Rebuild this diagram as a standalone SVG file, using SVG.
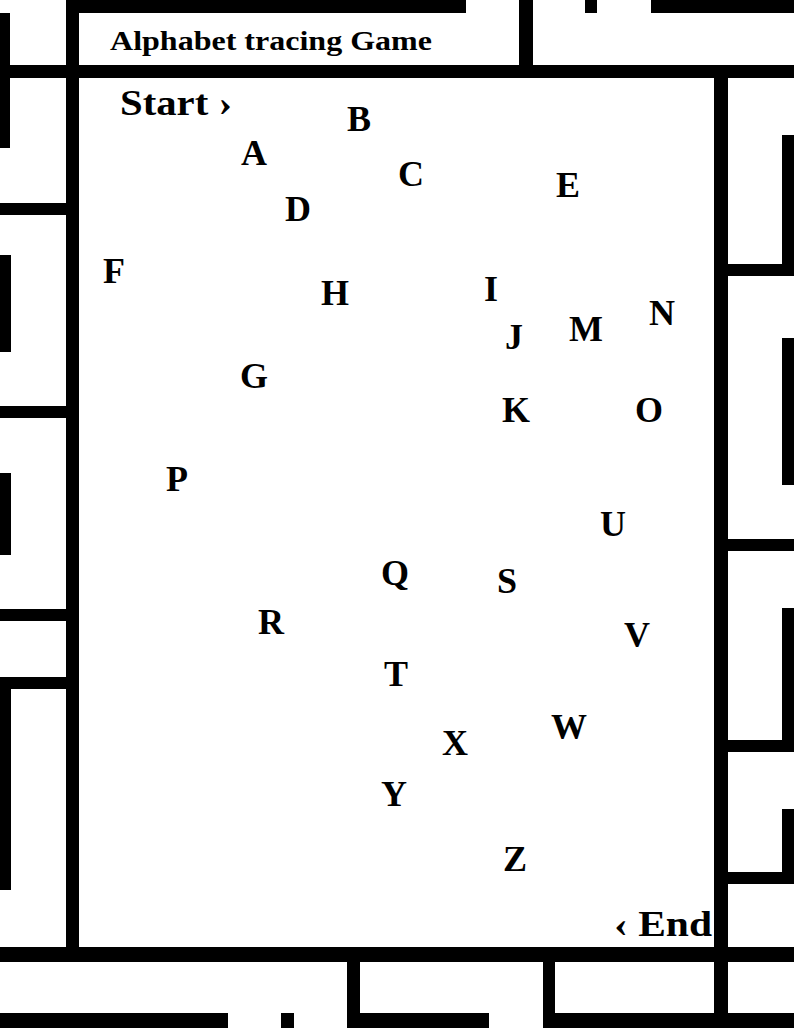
<svg xmlns="http://www.w3.org/2000/svg" width="794" height="1028" viewBox="0 0 794 1028">
<style>
.w{fill:#000}
text{font-family:"Liberation Serif","DejaVu Serif",serif;font-weight:bold;fill:#000}
.l{font-size:36px;text-anchor:middle}
</style>
<rect width="794" height="1028" fill="#fff"/>
<g id="walls" class="w">
<rect x="66" y="0" width="400" height="13"/>
<rect x="519" y="0" width="14" height="70"/>
<rect x="585" y="0" width="12" height="13"/>
<rect x="651" y="0" width="143" height="13"/>
<rect x="0" y="13" width="10" height="135"/>
<rect x="0" y="65" width="794" height="13"/>
<rect x="66" y="0" width="13" height="960"/>
<rect x="714" y="65" width="14" height="963"/>
<rect x="0" y="203" width="70" height="12"/>
<rect x="0" y="255" width="11" height="97"/>
<rect x="0" y="406" width="70" height="12"/>
<rect x="0" y="473" width="11" height="82"/>
<rect x="0" y="609" width="70" height="12"/>
<rect x="0" y="677" width="70" height="12"/>
<rect x="0" y="677" width="11" height="213"/>
<rect x="782" y="135" width="12" height="141"/>
<rect x="720" y="264" width="74" height="12"/>
<rect x="782" y="338" width="12" height="147"/>
<rect x="720" y="539" width="74" height="12"/>
<rect x="782" y="608" width="12" height="144"/>
<rect x="720" y="740" width="74" height="12"/>
<rect x="782" y="809" width="12" height="75"/>
<rect x="720" y="872" width="74" height="12"/>
<rect x="0" y="947" width="794" height="15"/>
<rect x="347" y="955" width="13" height="73"/>
<rect x="543" y="955" width="12" height="73"/>
<rect x="0" y="1013" width="228" height="15"/>
<rect x="281" y="1013" width="13" height="15"/>
<rect x="347" y="1013" width="142" height="15"/>
<rect x="543" y="1013" width="171" height="15"/>
<rect x="728" y="1013" width="66" height="15"/>
</g>
<g id="title"><text x="110" y="50" font-size="28" textLength="322" lengthAdjust="spacingAndGlyphs">Alphabet tracing Game</text></g>
<g id="start"><text x="120" y="115" font-size="36" textLength="112" lengthAdjust="spacingAndGlyphs">Start ›</text></g>
<g id="end"><text x="614" y="936" font-size="36" textLength="98" lengthAdjust="spacingAndGlyphs">‹ End</text></g>
<g id="letters" class="l">
<text class="l" x="359" y="131">B</text>
<text class="l" x="254" y="165">A</text>
<text class="l" x="411" y="186">C</text>
<text class="l" x="568" y="197">E</text>
<text class="l" x="298" y="221">D</text>
<text class="l" x="114" y="283">F</text>
<text class="l" x="335" y="305">H</text>
<text class="l" x="491" y="301">I</text>
<text class="l" x="514" y="349">J</text>
<text class="l" x="586" y="341">M</text>
<text class="l" x="662" y="325">N</text>
<text class="l" x="254" y="388">G</text>
<text class="l" x="516" y="422">K</text>
<text class="l" x="649" y="422">O</text>
<text class="l" x="177" y="491">P</text>
<text class="l" x="613" y="536">U</text>
<text class="l" x="395" y="585">Q</text>
<text class="l" x="507" y="593">S</text>
<text class="l" x="271" y="634">R</text>
<text class="l" x="637" y="647">V</text>
<text class="l" x="396" y="686">T</text>
<text class="l" x="569" y="739">W</text>
<text class="l" x="455" y="755">X</text>
<text class="l" x="394" y="806">Y</text>
<text class="l" x="515" y="871">Z</text>
</g>
</svg>
